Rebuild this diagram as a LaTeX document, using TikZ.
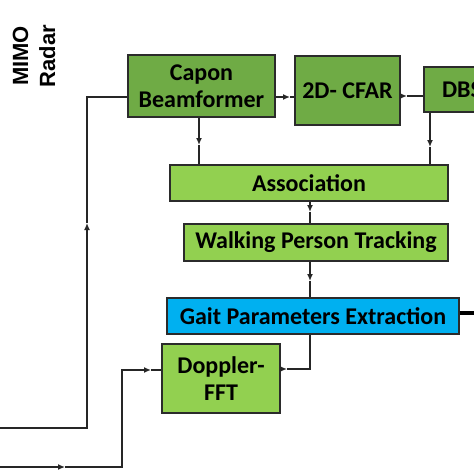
\documentclass[tikz,border=0pt]{standalone}
\usepackage{fontspec}
\setmainfont{Carlito}
\newfontfamily\arialfont{Liberation Sans}
\usetikzlibrary{arrows.meta}
\definecolor{darkg}{HTML}{6FAB45}
\definecolor{lightg}{HTML}{92D050}
\definecolor{gaitblue}{HTML}{00B0F0}
\definecolor{edge}{HTML}{2B2B2B}
\begin{document}
\begin{tikzpicture}[x=1pt,y=-1pt,
  box/.style={draw=edge, line width=1.4pt, inner sep=0pt, align=center,
    font=\fontsize{24}{27}\selectfont\bfseries},
  dbox/.style={box, fill=darkg},
  lbox/.style={box, fill=lightg},
  conn/.style={draw=black!85, line width=1.3pt},
  tip/.style={conn, -{Latex[length=7pt,width=6pt]}}]
\useasboundingbox (0,0) rectangle (474,474);
\clip (0,0) rectangle (474,474);
\fill[white] (0,0) rectangle (474,474);

% nodes
\node[dbox, minimum width=147pt, minimum height=62pt] (capon) at (201.5,86) {Capon\\Beamformer};
\node[dbox, minimum width=105pt, minimum height=69pt] (cfar) at (347.5,90.5) {2D- CFAR};
\node[dbox, minimum width=76pt, minimum height=45pt] (dbs) at (462,89.5) {DBS};
\node[lbox, minimum width=278pt, minimum height=36pt] (assoc) at (309,183) {Association};
\node[lbox, minimum width=264pt, minimum height=37pt] (walk) at (316,242.5) {Walking Person Tracking};
\node[box, fill=gaitblue, minimum width=292pt, minimum height=36pt] (gait) at (313,316) {Gait Parameters Extraction};
\node[lbox, minimum width=118pt, minimum height=69pt] (doppler) at (221,378.5) {Doppler-\\FFT};
\node[rotate=90, align=center, font=\arialfont\fontsize{22}{27}\selectfont\bfseries] (mimo) at (34,56) {MIMO\\Radar};

% helper coordinates
\coordinate (in1) at (0,428);
\coordinate (in1b) at (87,428);
\coordinate (in1a) at (87,223);
\coordinate (in1c) at (87,97);
\coordinate (in2) at (0,467);
\coordinate (in2a) at (65,467);
\coordinate (in2b) at (122,467);
\coordinate (in2c) at (122,370);
\coordinate (in2d) at (151,370);
\coordinate (ca) at (199,145);
\coordinate (cb) at (290,97);
\coordinate (cc) at (407,96);
\coordinate (cd) at (430,147);
\coordinate (ce) at (310,212);
\coordinate (cf) at (310,281);
\coordinate (cg) at (287,369);
\coordinate (ch) at (310,369);
\coordinate (ci) at (474,313);

% input 1 to Capon
\draw[tip] (in1) -- (in1b) -- (in1a);
\draw[conn] (in1a) -- (in1c) -- (capon.west |- in1c);
% input 2 to Doppler
\draw[tip] (in2) -- (in2a);
\draw[tip] (in2a) -- (in2b) -- (in2c) -- (in2d);
\draw[conn] (in2d) -- (doppler.west |- in2d);
% Capon -> Association
\draw[tip] (capon.south -| ca) -- (ca);
\draw[conn] (ca) -- (assoc.north -| ca);
% Capon -> CFAR
\draw[tip] (capon.east |- cb) -- (cb);
\draw[conn] (cb) -- (cfar.west |- cb);
% CFAR -> DBS
\draw[tip] (cfar.east |- cc) -- (cc);
\draw[conn] (cc) -- (dbs.west |- cc);
% DBS -> Association
\draw[tip] (dbs.south -| cd) -- (cd);
\draw[conn] (cd) -- (assoc.north -| cd);
% Association -> Walking
\draw[tip] (assoc.south -| ce) -- (ce);
\draw[conn] (ce) -- (walk.north -| ce);
% Walking -> Gait
\draw[tip] (walk.south -| cf) -- (cf);
\draw[conn] (cf) -- (gait.north -| cf);
% Doppler -> Gait
\draw[tip] (doppler.east |- cg) -- (cg);
\draw[conn] (cg) -- (ch) -- (gait.south -| ch);
% output
\draw[line width=4pt] (gait.east |- ci) -- (ci);
\end{tikzpicture}
\end{document}
